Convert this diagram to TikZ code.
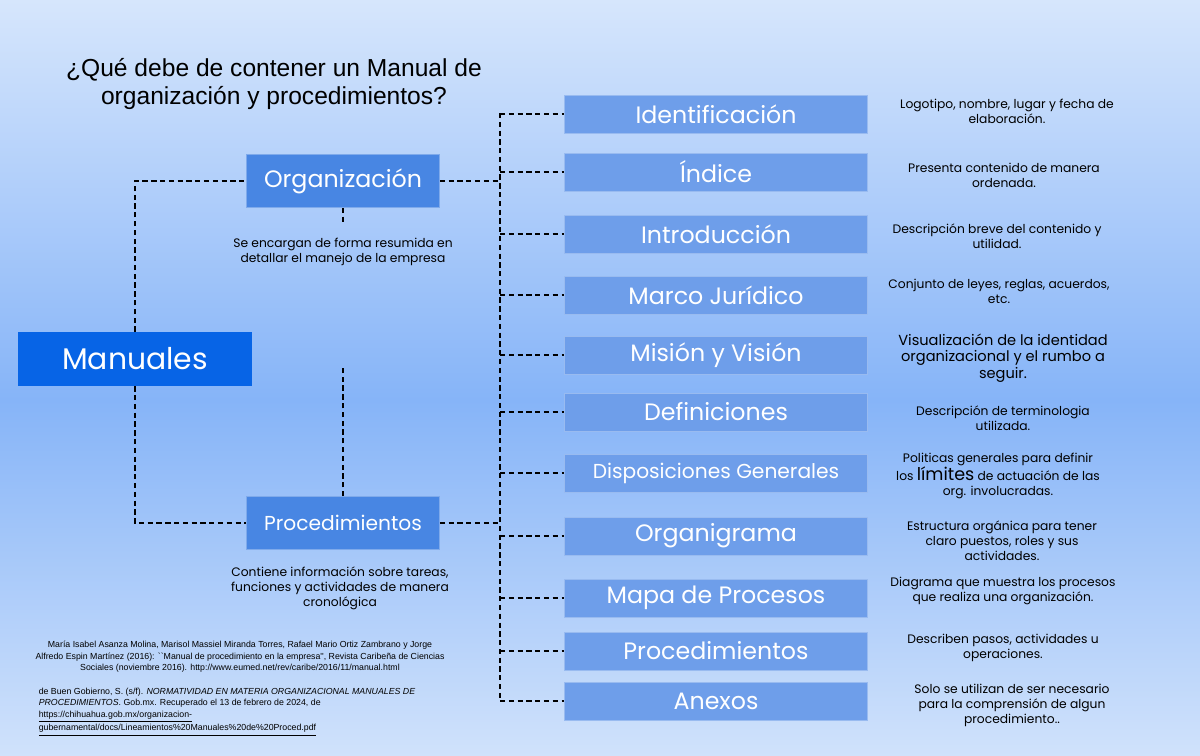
\documentclass[tikz,border=0pt]{standalone}
\usepackage{fontspec}
\setmainfont{Poppins}
\newfontfamily\arialfont{Liberation Sans}
\usetikzlibrary{positioning}
\definecolor{bgtop}{HTML}{D6E6FC}
\definecolor{bgmid}{HTML}{86B4F8}
\definecolor{bgbot}{HTML}{D0E2FB}
\definecolor{mainblue}{HTML}{0764E6}
\definecolor{midblue}{HTML}{4886E3}
\definecolor{itemblue}{HTML}{6E9EEA}

\begin{document}
\begin{tikzpicture}[x=0.02cm,y=-0.02cm]

\tikzstyle{item}=[rectangle,fill=itemblue,draw=itemblue!70!white,minimum width=303*0.02cm,minimum height=38*0.02cm,inner sep=0pt,text=white,font=\fontsize{13.5}{15}\selectfont]
\tikzstyle{branch}=[rectangle,fill=midblue,draw=midblue!70!white,minimum width=193*0.02cm,minimum height=53*0.02cm,inner sep=0pt,text=white,font=\fontsize{13.5}{15}\selectfont]
\tikzstyle{desc}=[align=center,font=\fontsize{7}{8.5}\selectfont]
\tikzstyle{link}=[densely dashed,line width=1pt]

% background
\fill[top color=bgtop,bottom color=bgmid] (0,0) rectangle (1200,400);
\fill[top color=bgmid,bottom color=bgbot] (0,400) rectangle (1200,756);
\useasboundingbox (0,0) rectangle (1200,756);

% title
\node[align=center,font=\arialfont\fontsize{14}{16}\selectfont] (title) at (274,84) {¿Qué debe de contener un Manual de\\organización y procedimientos?};

% main
\node[rectangle,fill=mainblue,minimum width=234*0.02cm,minimum height=54*0.02cm,inner sep=0pt,text=white,font=\fontsize{17}{19}\selectfont] (man) at (135,359) {Manuales};
\node[branch] (org) at (343,181) {Organización};
\node[branch,font=\fontsize{11.5}{13}\selectfont] (proc) at (343,523) {Procedimientos};
\node[desc] (orgtxt) at (343,252) {Se encargan de forma resumida en\\detallar el manejo de la empresa};
\node[desc] (proctxt) at (340,588) {Contiene información sobre tareas,\\funciones y actividades de manera\\cronológica};

%items
\node[item] (i1) at (716,114) {Identificación};
\node[item] (i2) at (716,172) {Índice};
\node[item] (i3) at (716,234) {Introducción};
\node[item] (i4) at (716,295) {Marco Jurídico};
\node[item] (i5) at (716,355) {Misión y Visión};
\node[item] (i6) at (716,412) {Definiciones};
\node[item,font=\fontsize{11.5}{13}\selectfont] (i7) at (716,473) {Disposiciones Generales};
\node[item] (i8) at (716,536) {Organigrama};
\node[item] (i9) at (716,598) {Mapa de Procesos};
\node[item] (i10) at (716,651) {Procedimientos};
\node[item] (i11) at (716,701) {Anexos};

%descriptions
\node[desc] (d1) at (1007,111) {Logotipo, nombre, lugar y fecha de\\elaboración.};
\node[desc] (d2) at (1004,175) {Presenta contenido de manera\\ordenada.};
\node[desc] (d3) at (997,236) {Descripción breve del contenido y\\utilidad.};
\node[desc] (d4) at (999,291) {Conjunto de leyes, reglas, acuerdos,\\etc.};
\node[desc,font=\fontsize{8.3}{9.5}\selectfont] (d5) at (1003,358) {Visualización de la identidad\\organizacional y el rumbo a\\seguir.};
\node[desc] (d6) at (1003,418) {Descripción de terminologia\\utilizada.};
\node[desc] (d7) at (998,476) {Politicas generales para definir\\los {\fontsize{10}{10}\selectfont límites} de actuación de las\\org. involucradas.};
\node[desc] (d8) at (1002,541) {Estructura orgánica para tener\\claro puestos, roles y sus\\actividades.};
\node[desc] (d9) at (1003,591) {Diagrama que muestra los procesos\\que realiza una organización.};
\node[desc] (d10) at (1003,648) {Describen pasos, actividades u\\operaciones.};
\node[desc] (d11) at (1012,705) {Solo se utilizan de ser necesario\\para la comprensión de algun\\procedimiento..};

% references
\node[align=center,font=\arialfont\fontsize{5}{6.5}\selectfont] (ref1) at (240,657) {María Isabel Asanza Molina, Marisol Massiel Miranda Torres, Rafael Mario Ortiz Zambrano y Jorge\\Alfredo Espin Martínez (2016): ``Manual de procedimiento en la empresa'', Revista Caribeña de Ciencias\\Sociales (noviembre 2016). http://www.eumed.net/rev/caribe/2016/11/manual.html};
\node[align=left,font=\arialfont\fontsize{5}{6.5}\selectfont] (ref2) at (227,712) {de Buen Gobierno, S. (s/f). \textit{NORMATIVIDAD EN MATERIA ORGANIZACIONAL MANUALES DE}\\\textit{PROCEDIMIENTOS}. Gob.mx. Recuperado el 13 de febrero de 2024, de\\\underline{https://chihuahua.gob.mx/organizacion-}\\\underline{gubernamental/docs/Lineamientos\%20Manuales\%20de\%20Proced.pdf}};

%connections
\coordinate (top) at (500,113);
\coordinate (bot) at (500,700);
\draw[link] (man.north) |- (org.west);
\draw[link] (man.south) |- (proc.west);
\draw[link] (org.south) -- ++(0,14);
\draw[link] (proc.north) -- ++(0,-130);
\draw[link] (org.east) -- (org.east -| top);
\draw[link] (proc.east) -- (proc.east -| top);
\draw[link] (top) -- (bot);
\foreach \i in {1,...,11}
  \draw[link] (i\i.west -| top) -- (i\i.west);

\end{tikzpicture}
\end{document}
